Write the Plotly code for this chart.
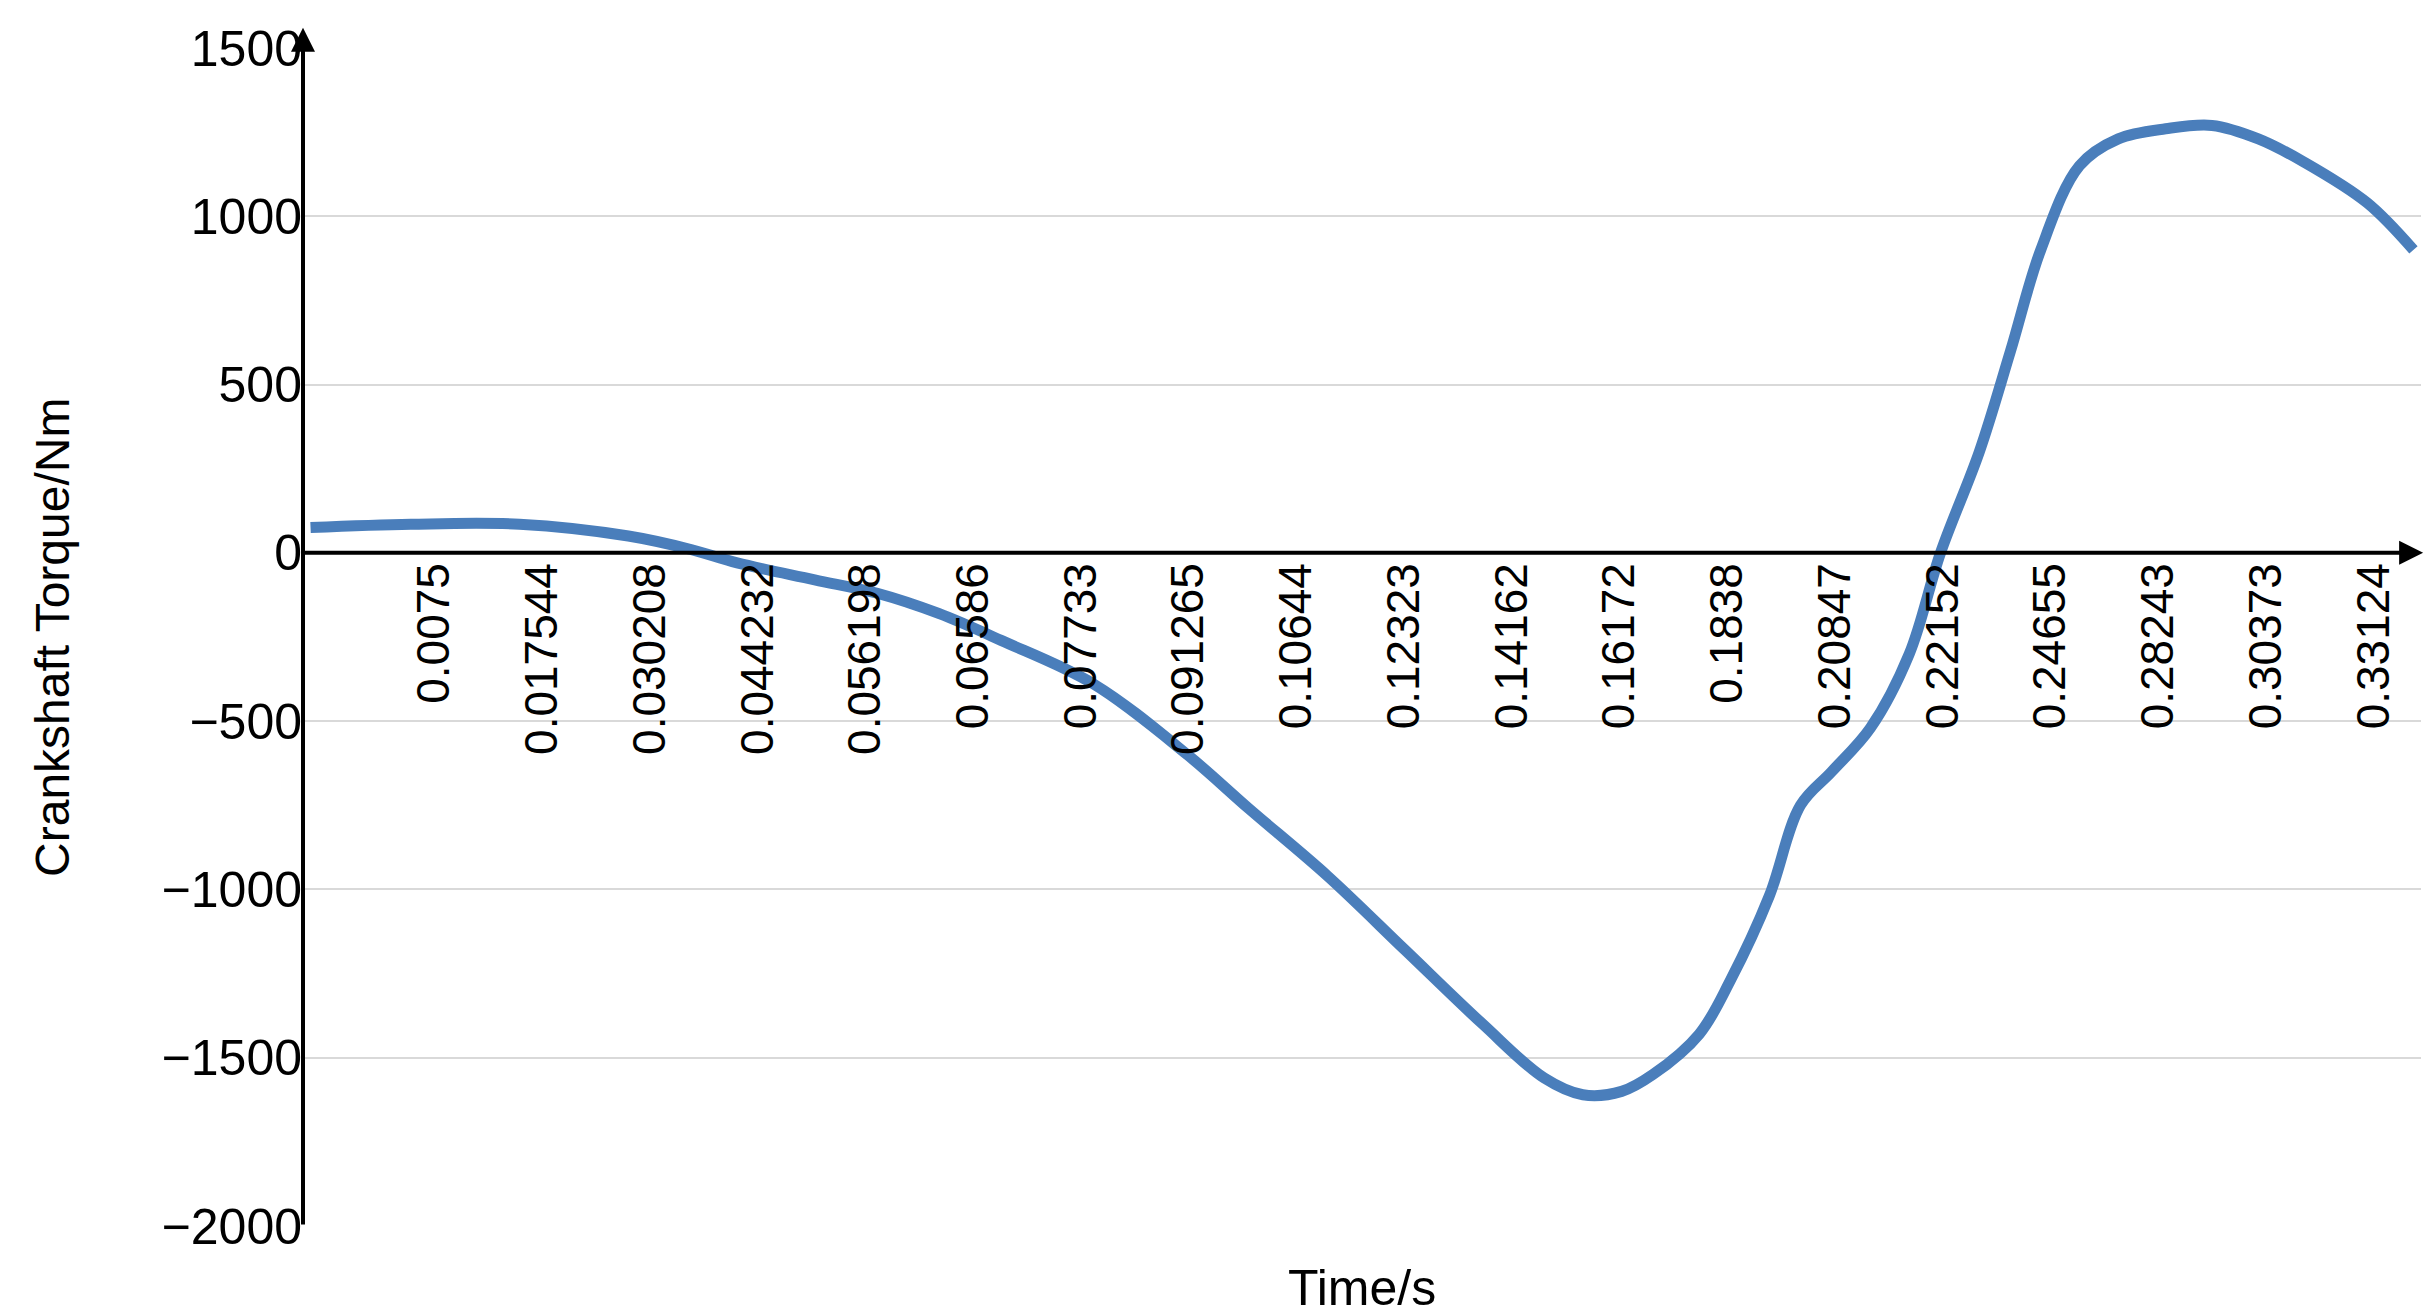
import plotly.graph_objects as go

time_labels = ["0.0075","0.017544","0.030208","0.044232","0.056198","0.06586","0.07733",
               "0.091265","0.10644","0.12323","0.14162","0.16172","0.1838","0.20847",
               "0.22152","0.24655","0.28243","0.30373","0.33124"]
# positions of samples on the category (label-index) scale
sample_pos = [-1.15,-0.22,0.79,1.80,2.38,2.81,3.53,4.11,4.68,5.26,6.12,6.99,7.56,8.29,9.01,
              9.73,10.30,10.66,11.02,11.31,11.74,12.03,12.39,12.68,12.97,13.33,13.69,13.98,
              14.34,14.63,14.91,15.27,15.63,16.07,16.50,16.93,17.36,17.94,18.37]
torque = [75,85,85,50,10,-30,-80,-120,-180,-260,-390,-600,-760,-960,-1180,
          -1400,-1560,-1610,-1600,-1550,-1430,-1270,-1020,-750,-650,-520,-300,0,
          300,600,900,1150,1230,1260,1270,1230,1160,1040,900]
y_ticks = [-2000,-1500,-1000,-500,0,500,1000,1500]
y_text = ["\u22122000","\u22121500","\u22121000","\u2212500","0","500","1000","1500"]

FONT = "Liberation Sans"
fig = go.Figure(go.Scatter(x=sample_pos, y=torque, mode="lines",
                           line=dict(color="#4A7EBB", width=11, shape="spline")))
xr = [-1.22, 18.44]
yr = [-2000, 1500]
fig.update_layout(
    width=2433, height=1315, plot_bgcolor="white", paper_bgcolor="white",
    margin=dict(l=295, r=20, t=40, b=97), showlegend=False,
    font=dict(family=FONT, size=48, color="black"),
    xaxis=dict(range=xr, tickmode="array", tickvals=list(range(len(time_labels))),
               ticktext=time_labels, tickangle=-90, anchor="free",
               position=2000/3500, showgrid=False, zeroline=False, showline=False,
               ticks="", tickfont=dict(size=46)),
    yaxis=dict(range=yr, tickvals=y_ticks, ticktext=y_text, showgrid=True,
               gridcolor="#D9D9D9", gridwidth=2, zeroline=False, showline=False,
               ticks="", tickfont=dict(size=50)),
)
fig.add_annotation(x=xr[1]+0.02, y=0, ax=xr[0], ay=0, xref="x", yref="y", axref="x", ayref="y",
                   showarrow=True, arrowhead=2, arrowsize=1.2, arrowwidth=4, arrowcolor="black", text="")
fig.add_annotation(x=xr[0], y=1560, ax=xr[0], ay=yr[0], xref="x", yref="y", axref="x", ayref="y",
                   showarrow=True, arrowhead=2, arrowsize=1.2, arrowwidth=4, arrowcolor="black", text="")
fig.add_annotation(text="Time/s", x=0.5, y=-0.078, xref="paper", yref="paper",
                   showarrow=False, font=dict(size=50), yanchor="bottom")
fig.add_annotation(text="Crankshaft Torque/Nm", x=-0.132, y=0.5, xref="paper", yref="paper",
                   showarrow=False, textangle=-90, font=dict(size=48))
fig.write_html("out.html")
